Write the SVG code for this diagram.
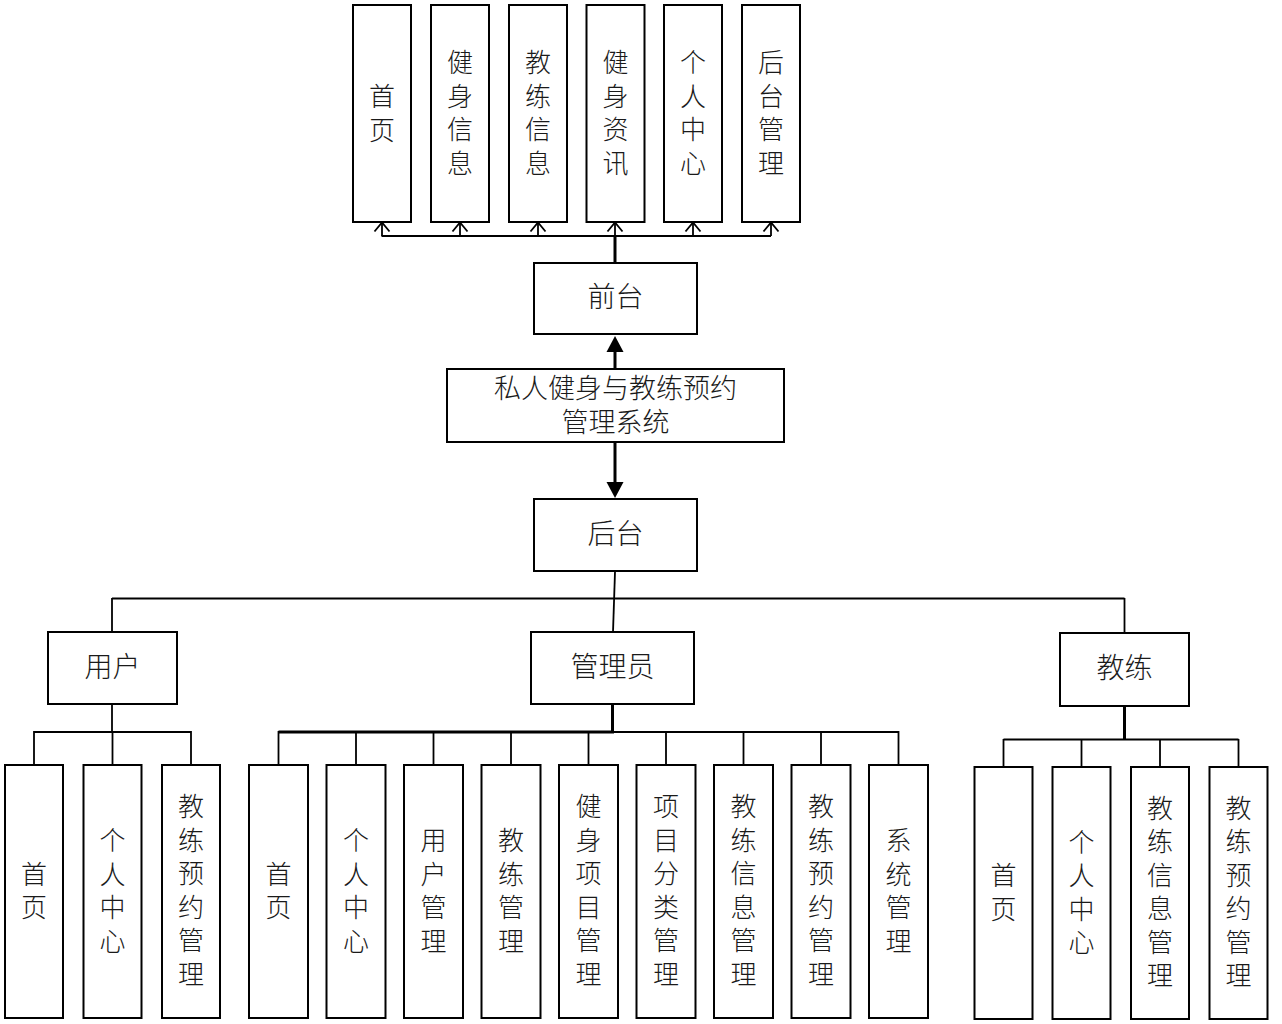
<svg xmlns="http://www.w3.org/2000/svg" width="1282" height="1024" viewBox="0 0 1282 1024">
<style>
  .box { fill: #ffffff; stroke: #000000; stroke-width: 2; }
  .t { font-family: "Noto Sans CJK SC", "Noto Sans", sans-serif; font-size: 28px; font-weight: 300; fill: #1a1a1a; text-anchor: middle; dominant-baseline: central; transform: translate(0px, -3px); }
  .tt { font-size: 27px; }
  .v { font-family: "Noto Sans CJK SC", "Noto Sans", sans-serif; font-size: 26px; font-weight: 300; fill: #1a1a1a; text-anchor: middle; dominant-baseline: central; transform: translate(0px, -3px); }
  .ln { stroke: #000000; stroke-width: 1.8; fill: none; }
  .thk { stroke: #000000; stroke-width: 3; fill: none; }
</style>
<defs>
  <marker id="open" markerUnits="userSpaceOnUse" orient="auto" markerWidth="20" markerHeight="20" refX="0" refY="0" viewBox="-12 -10 14 20" overflow="visible">
    <path d="M-9,-7.5 L0,0 L-9,7.5" fill="none" stroke="#000" stroke-width="1.8"/>
  </marker>
  <marker id="solid" markerUnits="userSpaceOnUse" orient="auto" markerWidth="20" markerHeight="20" refX="0" refY="0" viewBox="-1 -10 20 20" overflow="visible">
    <path d="M0,-8.5 L16,0 L0,8.5 Z" fill="#000" stroke="none"/>
  </marker>
</defs>
<rect width="1282" height="1024" fill="#ffffff"/>

<g id="connectors">
  <line class="ln" x1="381.5" y1="236" x2="771" y2="236"/>
  <line class="ln" x1="382" y1="236" x2="382" y2="222.5" marker-end="url(#open)"/>
  <line class="ln" x1="460" y1="236" x2="460" y2="222.5" marker-end="url(#open)"/>
  <line class="ln" x1="538" y1="236" x2="538" y2="222.5" marker-end="url(#open)"/>
  <line class="ln" x1="615" y1="236" x2="615" y2="222.5" marker-end="url(#open)"/>
  <line class="ln" x1="693" y1="236" x2="693" y2="222.5" marker-end="url(#open)"/>
  <line class="ln" x1="771" y1="236" x2="771" y2="222.5" marker-end="url(#open)"/>
  <line class="thk" x1="615" y1="263" x2="615" y2="235"/>
  <line class="thk" x1="615" y1="369" x2="615" y2="352" marker-end="url(#solid)"/>
  <line class="thk" x1="615" y1="442" x2="615" y2="482" marker-end="url(#solid)"/>
  <line class="ln" x1="615" y1="572" x2="613" y2="632"/>
  <line class="ln" x1="112" y1="598.5" x2="1124.5" y2="598.5"/>
  <line class="ln" x1="112" y1="598" x2="112" y2="632"/>
  <line class="ln" x1="1124.5" y1="598" x2="1124.5" y2="633"/>
  <line class="ln" x1="112" y1="704" x2="112" y2="732"/>
  <line class="ln" x1="34" y1="732" x2="191" y2="732"/>
  <line class="ln" x1="34" y1="731" x2="34" y2="765"/>
  <line class="ln" x1="112.5" y1="731" x2="112.5" y2="765"/>
  <line class="ln" x1="191" y1="731" x2="191" y2="765"/>
  <line class="thk" x1="612.5" y1="704" x2="612.5" y2="733"/>
  <line class="thk" x1="278.5" y1="732" x2="614" y2="732"/>
  <line class="ln" x1="612" y1="732" x2="899" y2="732"/>
  <line class="ln" x1="278.5" y1="731" x2="278.5" y2="765"/>
  <line class="ln" x1="356" y1="731" x2="356" y2="765"/>
  <line class="ln" x1="433.5" y1="731" x2="433.5" y2="765"/>
  <line class="ln" x1="511" y1="731" x2="511" y2="765"/>
  <line class="ln" x1="588.5" y1="731" x2="588.5" y2="765"/>
  <line class="ln" x1="666" y1="731" x2="666" y2="765"/>
  <line class="ln" x1="743.5" y1="731" x2="743.5" y2="765"/>
  <line class="ln" x1="821" y1="731" x2="821" y2="765"/>
  <line class="ln" x1="898.5" y1="731" x2="898.5" y2="765"/>
  <line class="thk" x1="1124.5" y1="706" x2="1124.5" y2="740"/>
  <line class="ln" x1="1003.5" y1="739.5" x2="1238.5" y2="739.5"/>
  <line class="ln" x1="1003.5" y1="739" x2="1003.5" y2="767"/>
  <line class="ln" x1="1081.5" y1="739" x2="1081.5" y2="767"/>
  <line class="ln" x1="1160" y1="739" x2="1160" y2="767"/>
  <line class="ln" x1="1238.5" y1="739" x2="1238.5" y2="767"/>
</g>

<g id="f-home"><rect class="box" x="353" y="5" width="58" height="217"/>
  <text class="v" x="382"><tspan x="382" y="97">首</tspan><tspan x="382" y="130.5">页</tspan></text></g>
<g id="f-fitinfo"><rect class="box" x="431" y="5" width="58" height="217"/>
  <text class="v"><tspan x="460" y="63">健</tspan><tspan x="460" y="96.5">身</tspan><tspan x="460" y="130">信</tspan><tspan x="460" y="163.5">息</tspan></text></g>
<g id="f-coachinfo"><rect class="box" x="509" y="5" width="58" height="217"/>
  <text class="v"><tspan x="538" y="63">教</tspan><tspan x="538" y="96.5">练</tspan><tspan x="538" y="130">信</tspan><tspan x="538" y="163.5">息</tspan></text></g>
<g id="f-news"><rect class="box" x="586.5" y="5" width="58" height="217"/>
  <text class="v"><tspan x="615.5" y="63">健</tspan><tspan x="615.5" y="96.5">身</tspan><tspan x="615.5" y="130">资</tspan><tspan x="615.5" y="163.5">讯</tspan></text></g>
<g id="f-center"><rect class="box" x="664" y="5" width="58" height="217"/>
  <text class="v"><tspan x="693" y="63">个</tspan><tspan x="693" y="96.5">人</tspan><tspan x="693" y="130">中</tspan><tspan x="693" y="163.5">心</tspan></text></g>
<g id="f-admin"><rect class="box" x="742" y="5" width="58" height="217"/>
  <text class="v"><tspan x="771" y="63">后</tspan><tspan x="771" y="96.5">台</tspan><tspan x="771" y="130">管</tspan><tspan x="771" y="163.5">理</tspan></text></g>

<g id="frontend"><rect class="box" x="534" y="263" width="163" height="71"/>
  <text class="t" x="615.5" y="298">前台</text></g>
<g id="system"><rect class="box" x="447" y="369" width="337" height="73"/>
  <text class="t tt"><tspan x="615.5" y="389">私人健身与教练预约</tspan><tspan x="615.5" y="423">管理系统</tspan></text></g>
<g id="backend"><rect class="box" x="534" y="499" width="163" height="72"/>
  <text class="t" x="615.5" y="535">后台</text></g>

<g id="user"><rect class="box" x="48" y="632" width="129" height="72"/>
  <text class="t" x="112.5" y="668">用户</text></g>
<g id="admin"><rect class="box" x="531" y="632" width="163" height="72"/>
  <text class="t" x="612.5" y="668">管理员</text></g>
<g id="coach"><rect class="box" x="1060" y="633" width="129" height="73"/>
  <text class="t" x="1124.5" y="669">教练</text></g>

<g id="u-home"><rect class="box" x="5" y="765" width="58" height="253"/>
  <text class="v"><tspan x="34" y="874.5">首</tspan><tspan x="34" y="908">页</tspan></text></g>
<g id="u-center"><rect class="box" x="83.5" y="765" width="58" height="253"/>
  <text class="v"><tspan x="112.5" y="841">个</tspan><tspan x="112.5" y="874.5">人</tspan><tspan x="112.5" y="908">中</tspan><tspan x="112.5" y="941.5">心</tspan></text></g>
<g id="u-booking"><rect class="box" x="162" y="765" width="58" height="253"/>
  <text class="v"><tspan x="191" y="807">教</tspan><tspan x="191" y="840.5">练</tspan><tspan x="191" y="874">预</tspan><tspan x="191" y="907.5">约</tspan><tspan x="191" y="941">管</tspan><tspan x="191" y="974.5">理</tspan></text></g>

<g id="a-home"><rect class="box" x="249" y="765" width="59" height="253"/>
  <text class="v"><tspan x="278.5" y="874.5">首</tspan><tspan x="278.5" y="908">页</tspan></text></g>
<g id="a-center"><rect class="box" x="326.5" y="765" width="59" height="253"/>
  <text class="v"><tspan x="356" y="841">个</tspan><tspan x="356" y="874.5">人</tspan><tspan x="356" y="908">中</tspan><tspan x="356" y="941.5">心</tspan></text></g>
<g id="a-user"><rect class="box" x="404" y="765" width="59" height="253"/>
  <text class="v"><tspan x="433.5" y="841">用</tspan><tspan x="433.5" y="874.5">户</tspan><tspan x="433.5" y="908">管</tspan><tspan x="433.5" y="941.5">理</tspan></text></g>
<g id="a-coach"><rect class="box" x="481.5" y="765" width="59" height="253"/>
  <text class="v"><tspan x="511" y="841">教</tspan><tspan x="511" y="874.5">练</tspan><tspan x="511" y="908">管</tspan><tspan x="511" y="941.5">理</tspan></text></g>
<g id="a-project"><rect class="box" x="559" y="765" width="59" height="253"/>
  <text class="v"><tspan x="588.5" y="807">健</tspan><tspan x="588.5" y="840.5">身</tspan><tspan x="588.5" y="874">项</tspan><tspan x="588.5" y="907.5">目</tspan><tspan x="588.5" y="941">管</tspan><tspan x="588.5" y="974.5">理</tspan></text></g>
<g id="a-category"><rect class="box" x="636.5" y="765" width="59" height="253"/>
  <text class="v"><tspan x="666" y="807">项</tspan><tspan x="666" y="840.5">目</tspan><tspan x="666" y="874">分</tspan><tspan x="666" y="907.5">类</tspan><tspan x="666" y="941">管</tspan><tspan x="666" y="974.5">理</tspan></text></g>
<g id="a-coachinfo"><rect class="box" x="714" y="765" width="59" height="253"/>
  <text class="v"><tspan x="743.5" y="807">教</tspan><tspan x="743.5" y="840.5">练</tspan><tspan x="743.5" y="874">信</tspan><tspan x="743.5" y="907.5">息</tspan><tspan x="743.5" y="941">管</tspan><tspan x="743.5" y="974.5">理</tspan></text></g>
<g id="a-booking"><rect class="box" x="791.5" y="765" width="59" height="253"/>
  <text class="v"><tspan x="821" y="807">教</tspan><tspan x="821" y="840.5">练</tspan><tspan x="821" y="874">预</tspan><tspan x="821" y="907.5">约</tspan><tspan x="821" y="941">管</tspan><tspan x="821" y="974.5">理</tspan></text></g>
<g id="a-system"><rect class="box" x="869" y="765" width="59" height="253"/>
  <text class="v"><tspan x="898.5" y="841">系</tspan><tspan x="898.5" y="874.5">统</tspan><tspan x="898.5" y="908">管</tspan><tspan x="898.5" y="941.5">理</tspan></text></g>

<g id="c-home"><rect class="box" x="974.5" y="767" width="58" height="252"/>
  <text class="v"><tspan x="1003.5" y="876">首</tspan><tspan x="1003.5" y="909.5">页</tspan></text></g>
<g id="c-center"><rect class="box" x="1052.5" y="767" width="58" height="252"/>
  <text class="v"><tspan x="1081.5" y="842.5">个</tspan><tspan x="1081.5" y="876">人</tspan><tspan x="1081.5" y="909.5">中</tspan><tspan x="1081.5" y="943">心</tspan></text></g>
<g id="c-info"><rect class="box" x="1131" y="767" width="58" height="252"/>
  <text class="v"><tspan x="1160" y="808.5">教</tspan><tspan x="1160" y="842">练</tspan><tspan x="1160" y="875.5">信</tspan><tspan x="1160" y="909">息</tspan><tspan x="1160" y="942.5">管</tspan><tspan x="1160" y="976">理</tspan></text></g>
<g id="c-booking"><rect class="box" x="1209.5" y="767" width="58" height="252"/>
  <text class="v"><tspan x="1238.5" y="808.5">教</tspan><tspan x="1238.5" y="842">练</tspan><tspan x="1238.5" y="875.5">预</tspan><tspan x="1238.5" y="909">约</tspan><tspan x="1238.5" y="942.5">管</tspan><tspan x="1238.5" y="976">理</tspan></text></g>
</svg>
